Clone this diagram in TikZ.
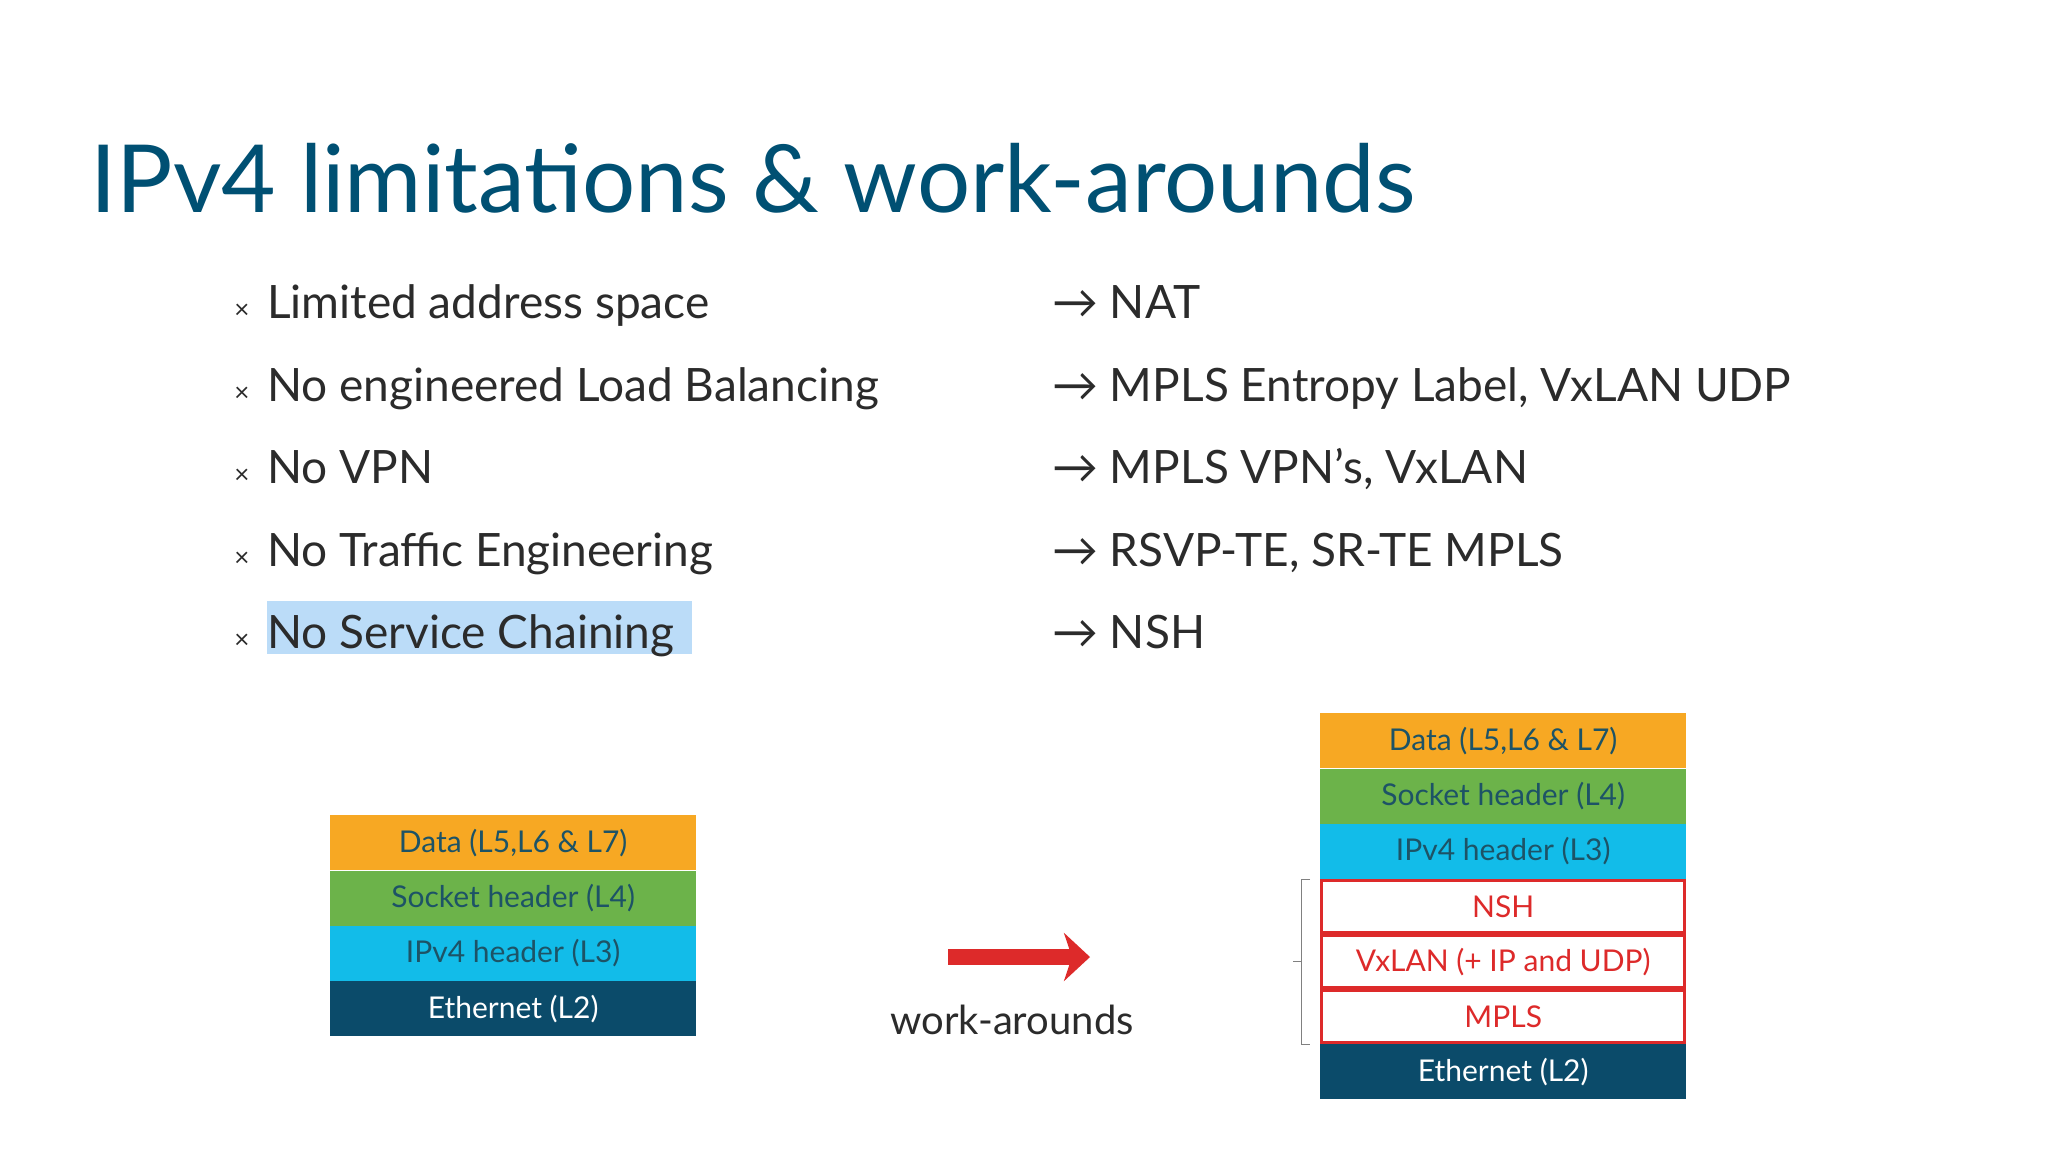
\documentclass[tikz,border=0pt]{standalone}
\usepackage{fontspec}
\setmainfont{Lato}
\usetikzlibrary{positioning,arrows.meta}
\definecolor{ciscoblue}{HTML}{005073}
\definecolor{dataorange}{HTML}{F7A823}
\definecolor{sockgreen}{HTML}{6CB34A}
\definecolor{ipblue}{HTML}{12BCE9}
\definecolor{ethdark}{HTML}{0B4B6A}
\definecolor{hdrtext}{HTML}{1D5366}
\definecolor{nshred}{HTML}{DD2A2A}
\definecolor{marked}{HTML}{BBDCF8}
\definecolor{bodygray}{HTML}{2B2B2B}
\tikzset{
  layer/.style={minimum width=366pt,minimum height=55pt,inner sep=0pt,
    font=\fontsize{30}{36}\selectfont,text=hdrtext},
  redlayer/.style={layer,draw=nshred,line width=3pt,fill=white,text=nshred,
    minimum width=363pt,minimum height=52pt},
  item/.style={anchor=base west,inner sep=0pt,text=bodygray,
    font=\fontsize{46}{55}\selectfont},
  cross/.style={anchor=base,inner sep=0pt,text=bodygray,
    font=\fontsize{26}{30}\selectfont}
}
\begin{document}
\begin{tikzpicture}[x=1pt,y=-1pt]
    \useasboundingbox[fill=white] (0,0) rectangle (2048,1152);

    % Title
    \node[anchor=base west,inner sep=0pt,text=ciscoblue,
      font=\fontsize{94}{104}\selectfont] (title) at (90,212)
      {IPv4 limitations \& work-arounds};

    % Limitations and work-arounds
    \fill[marked] (267,601) rectangle (692,654);
    \foreach \y/\lim/\fix [count=\i] in {
        318/Limited address space/NAT,
        401/No engineered Load Balancing/{MPLS Entropy Label, VxLAN UDP},
        483/No VPN/{MPLS VPN’s, VxLAN},
        566/No Traffic Engineering/{RSVP-TE, SR-TE MPLS},
        648/No Service Chaining/NSH} {
      \node[cross] (x\i) at (242,\y) {×};
      \node[item] (lim\i) at (267,\y) {\lim};
      \node[item] (fix\i) at (1052,\y) {→ \fix};
    }

    % Left stack
    \node[layer,fill=dataorange,anchor=north west] (ldata) at (330,815) {Data (L5,L6 \& L7)};
    \node[layer,fill=sockgreen,below=0pt of ldata] (lsock) {Socket header (L4)};
    \node[layer,fill=ipblue,below=0pt of lsock] (lip) {IPv4 header (L3)};
    \node[layer,fill=ethdark,text=white,below=0pt of lip] (leth) {Ethernet (L2)};

    % Arrow
    \coordinate (arrA) at (948,957);
    \coordinate (arrB) at (1090,957);
    \draw[nshred,line width=16pt,-{Stealth[length=26pt,width=48pt,inset=8pt]}] (arrA) -- (arrB);
    \node[inner sep=0pt,text=bodygray,font=\fontsize{40}{48}\selectfont]
      (wa) at (1012,1020) {work-arounds};

    % Right stack
    \node[layer,fill=dataorange,anchor=north west] (rdata) at (1320,713) {Data (L5,L6 \& L7)};
    \node[layer,fill=sockgreen,below=0pt of rdata] (rsock) {Socket header (L4)};
    \node[layer,fill=ipblue,below=0pt of rsock] (rip) {IPv4 header (L3)};
    \node[redlayer,below=0pt of rip] (rnsh) {NSH};
    \node[redlayer,below=0pt of rnsh] (rvx) {VxLAN (+ IP and UDP)};
    \node[redlayer,below=0pt of rvx] (rmpls) {MPLS};
    \node[layer,fill=ethdark,text=white,below=0pt of rmpls] (reth) {Ethernet (L2)};

    % Bracket
    \draw[gray,line width=1pt] ([xshift=-10pt]rnsh.north west) -- ++(-9,0)
      |- ([xshift=-10pt]rmpls.south west);
    \draw[gray,line width=1pt] ([xshift=-19pt]rvx.west) -- ++(-8,0);
\end{tikzpicture}
\end{document}
